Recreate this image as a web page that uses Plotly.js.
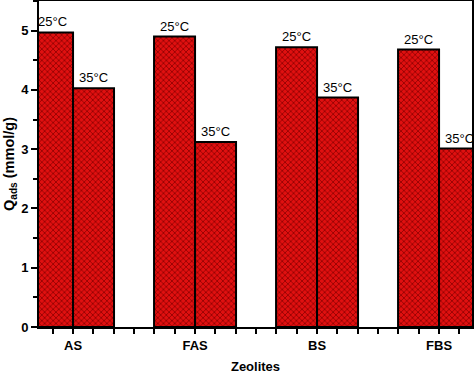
<!DOCTYPE html>
<html>
<head>
<meta charset="utf-8">
<script src="https://cdn.plot.ly/plotly-3.0.1.min.js"></script>
<style>html,body{margin:0;padding:0;background:#fff;}#chart{width:474px;height:378px;}</style>
</head>
<body>
<div id="chart"></div>
<script>
const categories = ["AS", "FAS", "BS", "FBS"];
const categoryPos = [1, 2, 3, 4];
const q25 = [4.97, 4.90, 4.72, 4.68];
const q35 = [4.03, 3.12, 3.87, 3.01];
const label25 = "25°C";
const label35 = "35°C";

const barStyle = {
  color: "#d90c0c",
  line: {color: "#000", width: 2},
  pattern: {shape: "x", fgcolor: "#8a0000", bgcolor: "#e01010", size: 4, solidity: 0.35}
};

const mk = (y, lbl) => ({
  type: "bar",
  x: categoryPos,
  y: y,
  text: y.map(() => lbl),
  textposition: "outside",
  cliponaxis: true,
  textfont: {family: "Arial, Liberation Sans, sans-serif", size: 13, color: "#000"},
  marker: barStyle,
  hoverinfo: "skip",
  showlegend: false
});

const data = [mk(q25, label25), mk(q35, label35)];

const layout = {
  width: 474, height: 378,
  margin: {l: 39, r: 2, t: 1, b: 51},
  paper_bgcolor: "#fff", plot_bgcolor: "#fff",
  barmode: "group",
  bargap: 0.328,
  bargroupgap: 0,
  font: {family: "Arial, Liberation Sans, sans-serif", color: "#000"},
  xaxis: {
    range: [0.721, 4.27],
    tickmode: "array",
    tickvals: categoryPos,
    ticktext: categories,
    ticks: "outside", ticklen: 5, tickwidth: 2, tickcolor: "#000",
    minor: {tickmode: "linear", tick0: 0, dtick: 1/6, ticks: "outside", ticklen: 5, tickwidth: 2, tickcolor: "#000"},
    tickfont: {size: 13, family: "Arial, Liberation Sans, sans-serif", weight: "bold"},
    showline: true, linecolor: "#000", linewidth: 2, mirror: true,
    showgrid: false, zeroline: false,
    title: {text: "<b>Zeolites</b>", font: {size: 13}, standoff: 10}
  },
  yaxis: {
    range: [0, 5.5],
    tickvals: [0, 1, 2, 3, 4, 5],
    ticks: "outside", ticklen: 6, tickwidth: 2, tickcolor: "#000",
    minor: {tickmode: "linear", tick0: 0, dtick: 0.5, ticks: "outside", ticklen: 4, tickwidth: 2, tickcolor: "#000"},
    tickfont: {size: 13, family: "Arial, Liberation Sans, sans-serif", weight: "bold"},
    showline: true, linecolor: "#000", linewidth: 2, mirror: true,
    showgrid: false, zeroline: false,
    title: {text: "<b>Q<sub>ads</sub> (mmol/g)</b>", font: {size: 14.5}, standoff: 3}
  }
};

Plotly.newPlot("chart", data, layout, {staticPlot: true, displayModeBar: false});
</script>
</body>
</html>
